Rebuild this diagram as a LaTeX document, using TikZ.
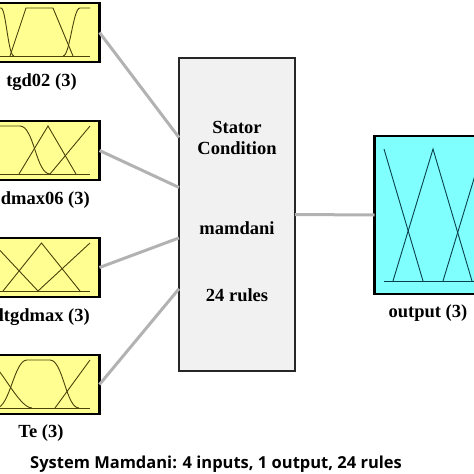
\documentclass[tikz,border=0pt]{standalone}
\usepackage{fontspec}
\setmainfont{Liberation Serif}
\newfontfamily\captionsans{Open Sans}
\usepackage{tikz}
\usetikzlibrary{arrows}
\usepackage{tkz-graph}

\definecolor{mfyellow}{RGB}{255,255,145}
\definecolor{mfcyan}{RGB}{128,255,255}
\definecolor{fisgray}{RGB}{241,241,241}
\definecolor{linkgray}{RGB}{178,178,178}
\definecolor{mfolive}{RGB}{75,65,10}
\definecolor{mfteal}{RGB}{10,65,75}

\tikzset{
  mfin/.style={draw=black,line width=2.5pt,fill=mfyellow,rectangle,minimum width=114pt,minimum height=59pt,inner sep=0pt},
  mfout/.style={draw=black,line width=2.5pt,fill=mfcyan,rectangle,minimum width=112pt,minimum height=158pt,inner sep=0pt},
  fisbox/.style={draw=black!85,line width=2pt,fill=fisgray,rectangle,minimum width=116pt,minimum height=313pt,inner sep=0pt},
  mfcurve/.style={draw=mfolive,line width=0.9pt},
  mfcurveout/.style={draw=mfteal,line width=0.9pt},
  varname/.style={font=\fontsize{18.5}{20}\selectfont\bfseries,inner sep=0pt},
  fistext/.style={font=\fontsize{18.5}{21}\selectfont\bfseries,inner sep=0pt,align=center}
}

\begin{document}
\begin{tikzpicture}[x=1pt,y=-1pt]
        \GraphInit[vstyle=Normal]
        \tikzset{EdgeStyle/.style={draw=linkgray,line width=3pt},
                 LabelStyle/.style={draw=none,fill=none,inner sep=0pt}}
        \useasboundingbox (0,0) rectangle (474,474);
        \clip (0,0) rectangle (474,474);

        % input variables
        \tikzset{VertexStyle/.style={mfin}}
        \Vertex[x=42.5,y=32.5,NoLabel]{tgd}
        \Vertex[x=42.5,y=150.5,NoLabel]{dmax}
        \Vertex[x=42.5,y=267.5,NoLabel]{ltgd}
        \Vertex[x=42.5,y=384.5,NoLabel]{te}

        % rule block and output
        \tikzset{VertexStyle/.style={fisbox}}
        \Vertex[x=237,y=214.5,NoLabel]{fis}
        \tikzset{VertexStyle/.style={mfout}}
        \Vertex[x=430.5,y=215,NoLabel]{out}

        \Edge(tgd.east)(fis.127)
        \Edge(dmax.east)(fis.155)
        \Edge(ltgd.east)(fis.202)
        \Edge(te.east)(fis.232)
        \Edge(fis.east)(out.west)

        % membership functions
        \begin{scope}[shift={(0,3)}]
          \draw[mfcurve] (-10,53) -- (90,53);
          \draw[mfcurve] (-10,5) -- (1,5) .. controls (6,5) and (8,53) .. (14,53);
          \draw[mfcurve] (10,53) -- (26,5) -- (53,5) -- (73,53);
          \draw[mfcurve] (63,53) .. controls (70,53) and (73,5) .. (80,5) -- (90,5);
        \end{scope}
        \begin{scope}[shift={(0,121)}]
          \draw[mfcurve] (-10,53) -- (90,53);
          \draw[mfcurve] (-10,5) -- (20,5) .. controls (34,5) and (36,53) .. (50,53);
          \draw[mfcurve] (19,53) -- (48,5) -- (76,53);
          \draw[mfcurve] (50,53) -- (90,5);
        \end{scope}
        \begin{scope}[shift={(0,238)}]
          \draw[mfcurve] (-10,53) -- (90,53);
          \draw[mfcurve] (-7,5) -- (38,53);
          \draw[mfcurve] (3,53) -- (41.5,5) -- (80,53);
          \draw[mfcurve] (38,53) -- (90,5);
        \end{scope}
        \begin{scope}[shift={(0,355)}]
          \draw[mfcurve] (-10,53) -- (90,53);
          \draw[mfcurve] (-14,5) .. controls (-2,5) and (18,53) .. (32,53);
          \draw[mfcurve] (-4,53) .. controls (10,53) and (14,5) .. (27,5) -- (50,5) .. controls (63,5) and (66,53) .. (79,53);
          \draw[mfcurve] (55,53) -- (90,5);
        \end{scope}
        \begin{scope}[shift={(0,136)}]
          \draw[mfcurveout] (384,145) -- (500,145);
          \draw[mfcurveout] (384,13) -- (423,145);
          \draw[mfcurveout] (393,145) -- (433,13) -- (472,145);
          \draw[mfcurveout] (443,145) -- (483,13) -- (522,145);
        \end{scope}

        % texts
        \node[varname] (tgdname) at (41.5,82) {tgd02 (3)};
        \node[varname,anchor=east] (dmaxname) at (90,200) {dmax06 (3)};
        \node[varname,anchor=east] (ltgdname) at (90,317) {ltgdmax (3)};
        \node[varname] (tename) at (41,433) {Te (3)};
        \node[varname] (outname) at (428,313) {output (3)};
        \node[fistext] (fisname) at (237,137.5) {Stator\\Condition};
        \node[fistext] (fistype) at (237,228) {mamdani};
        \node[fistext] (fisrules) at (237,295) {24 rules};
        \node[anchor=base west,inner sep=0pt,font=\captionsans\bfseries\fontsize{16.5}{20}\selectfont] (summary) at (30,468) {System Mamdani: 4 inputs, 1 output, 24 rules};
    \end{tikzpicture}
\end{document}
